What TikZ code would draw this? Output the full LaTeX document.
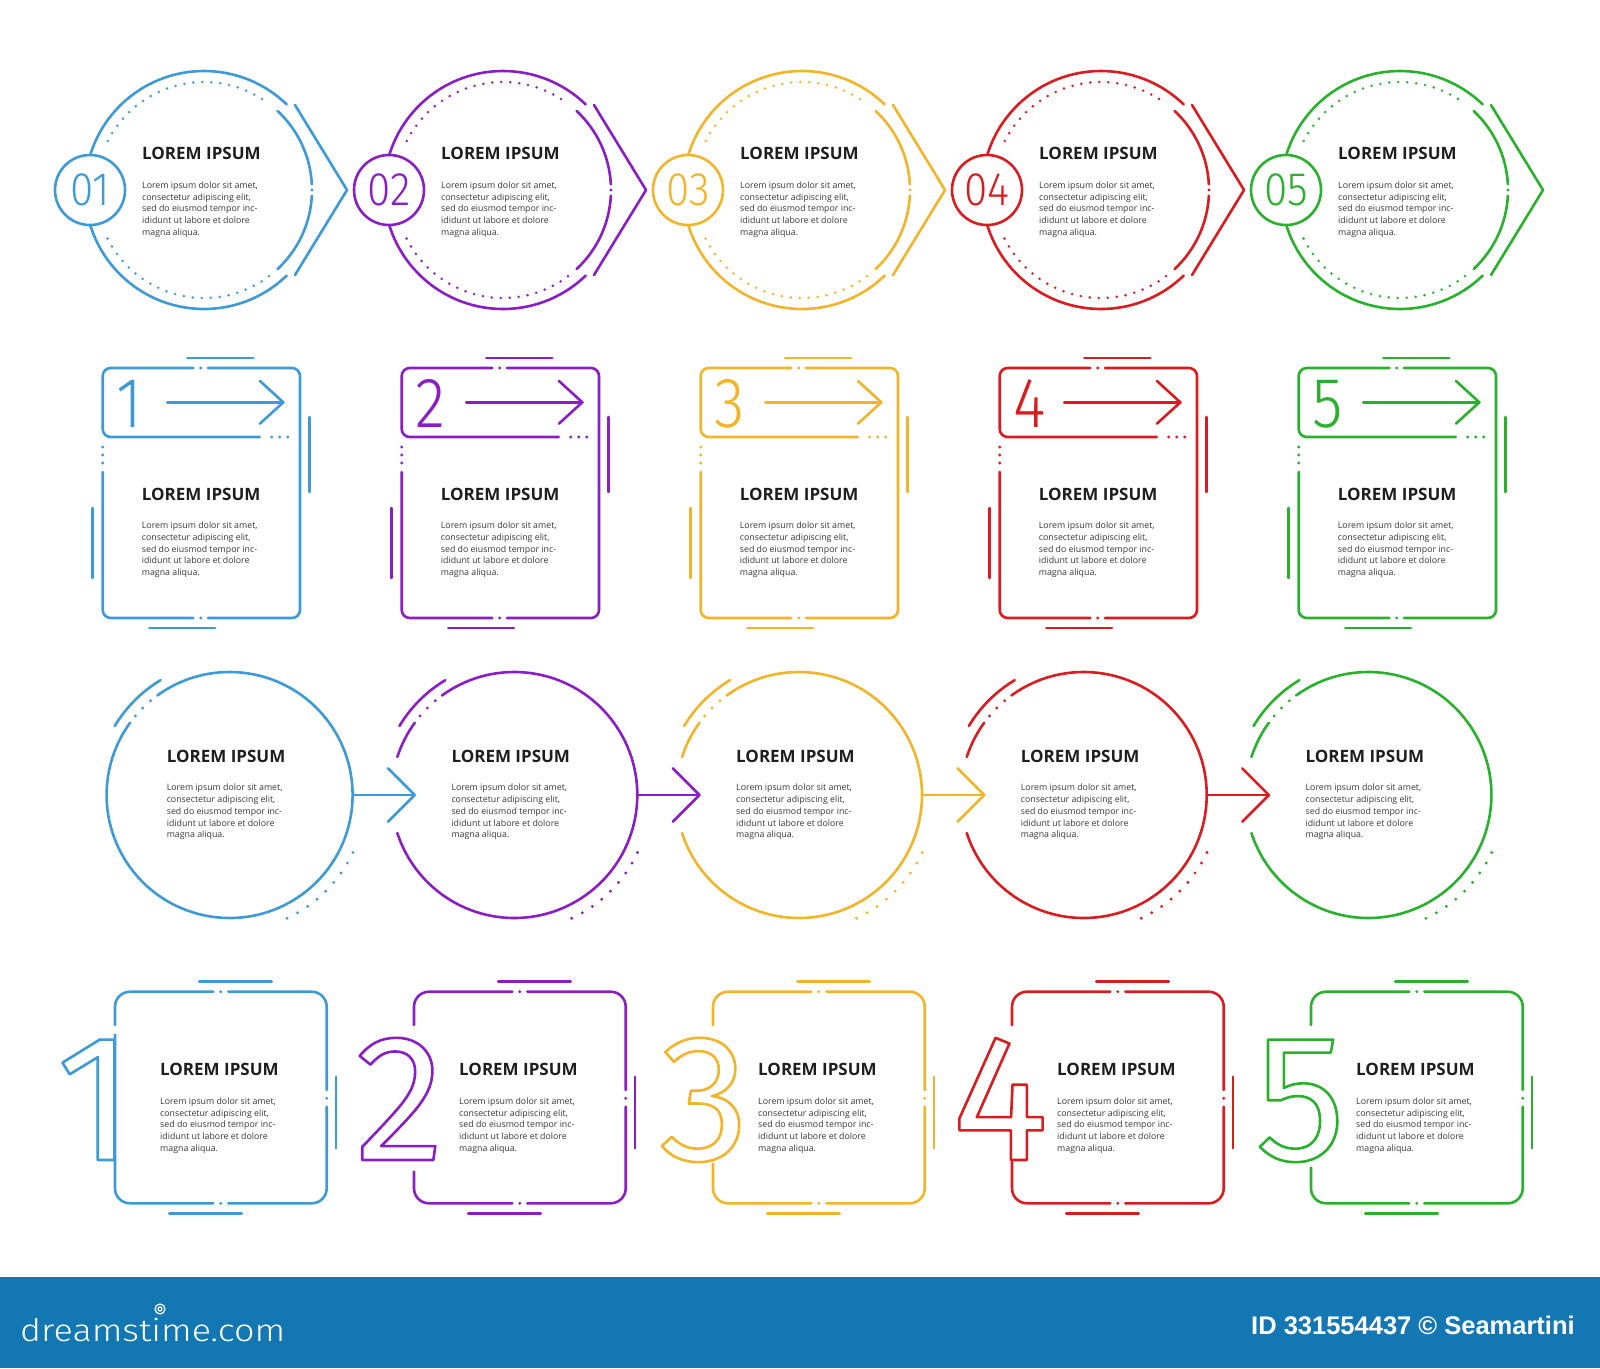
\documentclass[tikz,border=0pt]{standalone}
\usepackage{fontspec}
\usepackage{graphicx}
\setmainfont{Open Sans}
\newfontfamily\thinfont{Fira Sans Light}
\newfontfamily\digfont{Fira Sans}
\newfontfamily\barfont{Liberation Sans}
\usetikzlibrary{calc}
\definecolor{c1}{RGB}{61,154,214}
\definecolor{c2}{RGB}{138,30,196}
\definecolor{c3}{RGB}{242,180,40}
\definecolor{c4}{RGB}{218,28,32}
\definecolor{c5}{RGB}{41,177,45}
\definecolor{barc}{RGB}{18,119,178}
\definecolor{ttlc}{RGB}{30,30,30}
\definecolor{bodyc}{RGB}{55,55,55}
\newcommand\strokedigit[1]{\special{pdf:literal direct 1 Tr 2.6 w 1 j}#1\special{pdf:literal direct 0 Tr}}
\newcommand\bodytext{Lorem ipsum dolor sit amet,\\consectetur adipiscing elit,\\sed do eiusmod tempor inc-\\ididunt ut labore et dolore\\magna aliqua.}
\begin{document}
\begin{tikzpicture}[x=1pt,y=-1pt,
  ln/.style={line width=2.6pt,line cap=round,line join=round},
  dotline/.style={line width=2.8pt,line cap=round,dash pattern=on 0pt off 9pt},
  ttl/.style={font=\bfseries\fontsize{17}{20}\selectfont,text=ttlc,inner sep=0pt,anchor=base west},
  bdy/.style={font=\fontsize{8.8}{11.75}\selectfont,text=bodyc,align=left,inner sep=0pt,anchor=north west},
  digit/.style={font=\digfont\fontsize{180}{180}\selectfont,inner sep=0pt},
  dotc/.style={radius=1.6}]
\useasboundingbox (0,0) rectangle (1600,1368);
\fill[white] (0,0) rectangle (1600,1368);

% ---------- Row 1 ----------
\foreach \i/\col/\num in {0/c1/01,1/c2/02,2/c3/03,3/c4/04,4/c5/05}{
  \coordinate (o\i) at ({204+299*\i},190);
  \draw[ln,\col] ($(o\i)+(46:119)$) arc[start angle=46,end angle=314,radius=119];
  \draw[ln,\col] ($(o\i)+(-47:108)$) arc[start angle=-47,end angle=-3,radius=108];
  \draw[ln,\col] ($(o\i)+(3:108)$) arc[start angle=3,end angle=47,radius=108];
  \fill[\col] ($(o\i)+(0:108)$) circle[dotc];
  \draw[dotline,\col] ($(o\i)+(53:108)$) arc[start angle=53,end angle=155,radius=108];
  \draw[dotline,\col] ($(o\i)+(207:108)$) arc[start angle=207,end angle=307,radius=108];
  \draw[ln,\col] ($(o\i)+(91,-85)$) -- ($(o\i)+(143,0)$) -- ($(o\i)+(91,85)$);
  \node[circle,draw=\col,fill=white,line width=2.6pt,minimum size=70pt,inner sep=0pt,text=\col,
        font=\thinfont\fontsize{47}{47}\selectfont] (n1-\i) at ($(o\i)+(-114,0)$) {\scalebox{0.9}[1]{\num}};
  \node[ttl] (t1-\i) at ($(o\i)+(-62,-30.4)$) {LOREM IPSUM};
  \node[bdy] (b1-\i) at ($(o\i)+(-62,-8.6)$) {\bodytext};
}

% ---------- Row 2 ----------
\foreach \i/\col/\num in {0/c1/1,1/c2/2,2/c3/3,3/c4/4,4/c5/5}{
  \coordinate (p\i) at ({102.7+299*\i},368);
  \draw[ln,\col,rounded corners=8] ($(p\i)+(157,69)$) -- ($(p\i)+(0,69)$) -- (p\i) -- ($(p\i)+(90.6,0)$);
  \draw[ln,\col,rounded corners=8] ($(p\i)+(105.3,0)$) -- ($(p\i)+(197.3,0)$) -- ($(p\i)+(197.3,250)$) -- ($(p\i)+(105.3,250)$);
  \draw[ln,\col,rounded corners=8] ($(p\i)+(90.6,250)$) -- ($(p\i)+(0,250)$) -- ($(p\i)+(0,104)$);
  \foreach \dx/\dy in {98/0,98/250,0/79,0/87,0/95,169/69,177/69,185/69}{
    \fill[\col] ($(p\i)+(\dx,\dy)$) circle[dotc];
  }
  \draw[ln,\col] ($(p\i)+(84.6,-10)$) -- ($(p\i)+(150.6,-10)$);
  \draw[ln,\col] ($(p\i)+(46.6,260)$) -- ($(p\i)+(112.3,260)$);
  \draw[ln,\col] ($(p\i)+(-10,140)$) -- ($(p\i)+(-10,210)$);
  \draw[ln,\col] ($(p\i)+(206.6,49)$) -- ($(p\i)+(206.6,124)$);
  \node[anchor=base west,inner sep=0pt,text=\col,font=\thinfont\fontsize{71}{71}\selectfont] (h2-\i) at ($(p\i)+(14,59)$) {\scalebox{0.88}[1]{\num}};
  \coordinate (a2s\i) at ($(p\i)+(64.6,34.3)$);
  \coordinate (a2t\i) at ($(p\i)+(180.6,34.3)$);
  \draw[ln,\col] (a2s\i) -- (a2t\i);
  \draw[ln,\col] ($(a2t\i)+(-23.3,-21.3)$) -- (a2t\i) -- ($(a2t\i)+(-23.3,21.3)$);
  \node[ttl] (t2-\i) at ($(p\i)+(39,132)$) {LOREM IPSUM};
  \node[bdy] (b2-\i) at ($(p\i)+(39,153.8)$) {\bodytext};
}

% ---------- Row 3 ----------
\foreach \i/\col in {0/c1,1/c2,2/c3,3/c4,4/c5}{
  \coordinate (c\i) at ({229.6+284.7*\i},795);
  \node[circle,minimum size=246pt,inner sep=0pt] (r3c\i) at (c\i) {};
  \ifnum\i=0
    \draw[ln,\col] ($(c\i)+(234:123)$) arc[start angle=234,end angle=576,radius=123];
  \else
    \draw[ln,\col] ($(c\i)+(234:123)$) arc[start angle=234,end angle=522,radius=123];
    \draw[ln,\col] ($(c\i)+(198:123)$) arc[start angle=198,end angle=216,radius=123];
  \fi
  \foreach \a in {220,225,230}{\fill[\col] ($(c\i)+(\a:123)$) circle[dotc];}
  \draw[ln,\col] ($(c\i)+(211:134)$) arc[start angle=211,end angle=239,radius=134];
  \foreach \a in {25,30,...,65}{\fill[\col] ($(c\i)+(\a:136)$) circle[dotc];}
  \node[ttl] (t3-\i) at ($(c\i)+(-63,-32.7)$) {LOREM IPSUM};
  \node[bdy] (b3-\i) at ($(c\i)+(-63,-10.9)$) {\bodytext};
}
\foreach \i/\j/\col in {0/1/c1,1/2/c2,2/3/c3,3/4/c4}{
  \draw[ln,\col] (r3c\i.east) -- ($(r3c\j.west)+(23.7,0)$) coordinate (tip\i);
  \draw[ln,\col] ($(tip\i)+(-26.7,-26.7)$) -- (tip\i) -- ($(tip\i)+(-26.7,26.7)$);
}

% ---------- Row 4 ----------
\foreach \i/\col/\dig/\dx/\ly in {0/c1/1/-59/43,1/c2/2/-59/180,2/c3/3/-54/172,3/c4/4/-60/170,4/c5/5/-56/176}{
  \coordinate (q\i) at ({115+299*\i},991.7);
  \node[digit,text=\col,anchor=base west] (d\i) at ($(q\i)+(\dx,168.3)$) {\strokedigit{\dig}};
  \draw[ln,\col,rounded corners=15] ($(q\i)+(0,33.3)$) -- (q\i) -- ($(q\i)+(98.3,0)$);
  \draw[ln,\col,rounded corners=15] ($(q\i)+(113.3,0)$) -- ($(q\i)+(211.7,0)$) -- ($(q\i)+(211.7,98.3)$);
  \draw[ln,\col,rounded corners=15] ($(q\i)+(211.7,115)$) -- ($(q\i)+(211.7,211.6)$) -- ($(q\i)+(113.3,211.6)$);
  \draw[ln,\col,rounded corners=15] ($(q\i)+(98.3,211.6)$) -- ($(q\i)+(0,211.6)$) -- ($(q\i)+(0,\ly)$);
  \foreach \px/\py in {105.8/0,105.8/211.6,211.7/106.6}{\fill[\col] ($(q\i)+(\px,\py)$) circle[dotc];}
  \draw[ln,\col] ($(q\i)+(84.3,-10)$) -- ($(q\i)+(156.7,-10)$);
  \draw[ln,\col] ($(q\i)+(54.3,221.6)$) -- ($(q\i)+(126.7,221.6)$);
  \draw[ln,\col] ($(q\i)+(221,85)$) -- ($(q\i)+(221,156.6)$);
  \node[ttl] (t4-\i) at ($(q\i)+(45,84)$) {LOREM IPSUM};
  \node[bdy] (b4-\i) at ($(q\i)+(45,105.8)$) {\bodytext};
}

% ---------- Footer bar ----------
\fill[barc] (0,1277) rectangle (1600,1368);
\node[anchor=base west,inner sep=0pt,text=white,font=\thinfont\fontsize{31}{31}\selectfont] (logo) at (20,1341) {\scalebox{1.16}[1]{dreamstime.com}};
\draw[white,line width=1.2pt] (160,1309) circle[radius=5];
\draw[white,line width=1.2pt] (160,1309) circle[radius=2];
\node[anchor=base west,inner sep=0pt,text=white,font=\barfont\bfseries\fontsize{25.5}{25.5}\selectfont] (credit) at (1251,1334) {ID 331554437 © Seamartini};
\end{tikzpicture}
\end{document}
